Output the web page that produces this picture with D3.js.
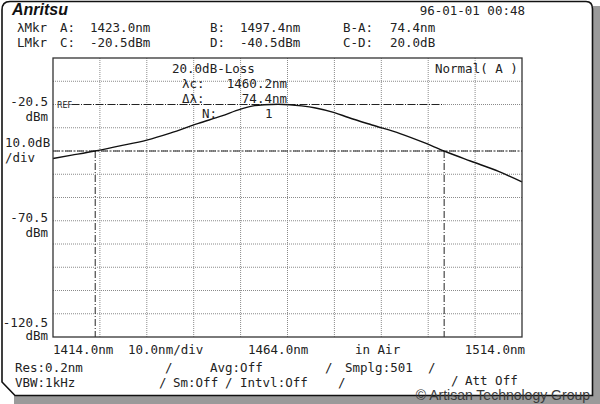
<!DOCTYPE html>
<html>
<head>
<meta charset="utf-8">
<script src="https://cdn.jsdelivr.net/npm/d3@7"></script>
<style>
  html, body { margin: 0; padding: 0; background: #fff; }
  svg { display: block; }
  .t { font-family: "DejaVu Sans Mono", "Liberation Mono", monospace; font-size: 12.5px; fill: #222; }
</style>
</head>
<body>
<svg id="chart" width="600" height="404"></svg>
<script>
// ---- data ----
const wavelength = [1414, 1418, 1423, 1428, 1434, 1439, 1445, 1450, 1454, 1457, 1459, 1462, 1464.5, 1467, 1470, 1474, 1477, 1482, 1488, 1493, 1497.4, 1503, 1509, 1514];
const power      = [-43.7, -42.3, -40.5, -38.4, -35.8, -32.8, -28.6, -25.4, -22.5, -21.0, -20.6, -20.4, -20.6, -21.1, -22.0, -24.0, -26.1, -29.3, -33.0, -36.8, -40.5, -44.8, -49.3, -53.8];
const markersNm  = [1423.0, 1497.4];   // A, B
const levelC = -20.5, levelD = -40.5;  // C, D
const yTickValues = [-20.5, -70.5, -120.5];
const xTickLabels = ["1414.0nm", "10.0nm/div", "1464.0nm", "in Air", "1514.0nm"];
const headerRow1 = ["λMkr", "A:", "1423.0nm", "B:", "1497.4nm", "B-A:", "74.4nm"];
const headerRow2 = ["LMkr", "C:", "-20.5dBm", "D:", "-40.5dBm", "C-D:", "20.0dB"];
const lossInfo = ["20.0dB-Loss", "λc:", "1460.2nm", "Δλ:", "74.4nm", "N:", "1"];

// ---- layout ----
const svg = d3.select("#chart");
const x = d3.scaleLinear().domain([1414, 1514]).range([53, 522]);
const y = d3.scaleLinear().domain([-0.5, -120.5]).range([58, 337]);

// screen frame
svg.append("rect").attr("x", 593).attr("y", 6).attr("width", 7).attr("height", 398).attr("fill", "#9a9a9a");
svg.append("rect").attr("x", 14).attr("y", 396).attr("width", 586).attr("height", 8).attr("fill", "#9a9a9a");
svg.append("path")
  .attr("d", "M2,10 Q2,1.5 10,1.5 L586,1.5 Q592.5,1.5 592.5,9 L592.5,395.5 L15,395.5 L2,382 Z")
  .attr("fill", "#fff").attr("stroke", "#111").attr("stroke-width", 1.6);

const T = (tx, ty, s, anchor) => svg.append("text").attr("class", "t")
  .attr("x", tx).attr("y", ty).attr("text-anchor", anchor || "start").text(s);

// header
svg.append("text").attr("x", 12).attr("y", 15)
  .style("font-family", "'Liberation Sans', Arial, sans-serif").style("font-size", "16px")
  .style("font-weight", "bold").style("font-style", "italic").attr("fill", "#111").text("Anritsu");
T(525, 15, "96-01-01 00:48", "end");
const hx = [17, 60, 90, 210, 240, 343, 390];
headerRow1.forEach((s, i) => T(hx[i], 32, s));
headerRow2.forEach((s, i) => T(hx[i], 47, s));

// grid
const g = svg.append("g");
g.selectAll(".gx").data(d3.range(1424, 1514, 10)).join("line")
  .attr("x1", d => x(d)).attr("x2", d => x(d)).attr("y1", y.range()[0]).attr("y2", y.range()[1])
  .attr("stroke", "#8a8a8a").attr("stroke-width", 1).attr("stroke-dasharray", "1,1");
g.selectAll(".gy").data(d3.range(-10.5, -120.5, -10)).join("line")
  .attr("y1", d => y(d)).attr("y2", d => y(d)).attr("x1", x.range()[0]).attr("x2", x.range()[1])
  .attr("stroke", "#8a8a8a").attr("stroke-width", 1).attr("stroke-dasharray", "1,1");

// marker lines
const dashDot = "7,2,1,2";
g.append("line").attr("x1", x(1414) + 19).attr("x2", x(markersNm[1]))
  .attr("y1", y(levelC)).attr("y2", y(levelC))
  .attr("stroke", "#222").attr("stroke-width", 1).attr("stroke-dasharray", dashDot);
g.append("line").attr("x1", x.range()[0]).attr("x2", x.range()[1])
  .attr("y1", y(levelD)).attr("y2", y(levelD))
  .attr("stroke", "#222").attr("stroke-width", 1).attr("stroke-dasharray", dashDot);
g.selectAll(".mk").data(markersNm).join("line")
  .attr("x1", d => x(d)).attr("x2", d => x(d)).attr("y1", y(levelD)).attr("y2", y.range()[1])
  .attr("stroke", "#222").attr("stroke-width", 1).attr("stroke-dasharray", dashDot);

// trace
const line = d3.line().x((d, i) => x(wavelength[i])).y(d => y(d)).curve(d3.curveMonotoneX);
g.append("path").datum(power).attr("d", line)
  .attr("fill", "none").attr("stroke", "#111").attr("stroke-width", 1.4);

// frame
svg.append("rect").attr("x", x.range()[0]).attr("y", y.range()[0])
  .attr("width", x.range()[1] - x.range()[0]).attr("height", y.range()[1] - y.range()[0])
  .attr("fill", "none").attr("stroke", "#333").attr("stroke-width", 1.3);

// REF label
svg.append("text").attr("x", x.range()[0] + 4).attr("y", y(levelC) + 3)
  .style("font-family", "'DejaVu Sans', sans-serif").style("font-size", "8px").attr("fill", "#222").text("REF");

// y labels
yTickValues.forEach((v, i) => {
  const base = i === 2 ? y(v) - 10.5 : y(v) + 1;
  T(48, base, v.toFixed(1), "end");
  T(48, base + (i === 2 ? 13.5 : 15), "dBm", "end");
});
T(5, 147, "10.0dB");
T(5, 162, "/div");

// x labels
T(x(1414), 354, xTickLabels[0]);
T(128, 354, xTickLabels[1]);
T(x(1464) - 39.5, 354, xTickLabels[2]);
T(355, 354, xTickLabels[3]);
T(x(1514) + 3, 354, xTickLabels[4], "end");

// in-plot info
T(172, 73, lossInfo[0]);
T(182, 88, lossInfo[1]); T(287, 88, lossInfo[2], "end");
T(182, 103, lossInfo[3]); T(287, 103, lossInfo[4], "end");
T(202, 118, lossInfo[5]); T(265, 118, lossInfo[6]);
T(435, 73, "Normal( A )");

// footer
T(15, 372, "Res:0.2nm");
T(15, 387, "VBW:1kHz");
T(165, 372, "/"); T(210, 372, "Avg:Off"); T(325, 372, "/"); T(345, 372, "Smplg:501"); T(428, 372, "/");
T(159, 387, "/"); T(173, 387, "Sm:Off"); T(225, 387, "/"); T(240, 387, "Intvl:Off"); T(338, 387, "/");
T(451, 385, "/"); T(465, 385, "Att Off");

// watermark
svg.append("text").attr("x", 590).attr("y", 399.5).attr("text-anchor", "end")
  .style("font-family", "'Liberation Sans', Arial, sans-serif").style("font-size", "14px")
  .attr("fill", "#3a3a3a")
  .text("© Artisan Technology Group");
</script>
</body>
</html>
